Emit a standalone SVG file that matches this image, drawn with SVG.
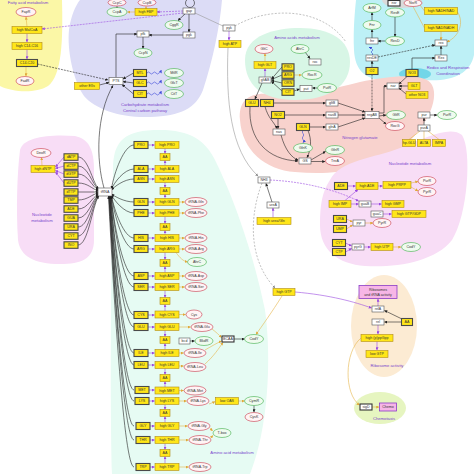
<svg xmlns="http://www.w3.org/2000/svg" width="474" height="474" viewBox="0 0 474 474">
<defs>
<style>
.y{fill:#ffe619;stroke:#b08a1a;stroke-width:.6}
.d{fill:#ffe619;stroke:#4a4a4a;stroke-width:1.1}
.w{fill:#fff;stroke:#555;stroke-width:.6}
.wd{fill:#fff;stroke:#333;stroke-width:1.1}
.p{fill:#fff4f5;stroke:#c8384a;stroke-width:.6}
.g{fill:#effbef;stroke:#3fae4a;stroke-width:.6}
.r{fill:#f7b6e6;stroke:#8a3cc8;stroke-width:.8}
text{font-family:"Liberation Sans",Arial,sans-serif;font-size:3.6px;fill:#333;text-anchor:middle;dominant-baseline:central}
.lb{font-size:4.2px;fill:#7a44cc}
.k,.kd,.pu,.pud,.o,.gr,.grd,.bl{fill:none;stroke-width:.6}
.k{stroke:#222}
.kd{stroke:#222;stroke-dasharray:2 1}
.pu{stroke:#9a4ae0}
.pud{stroke:#9a4ae0;stroke-dasharray:2 1}
.o{stroke:#e6b64a}
.gr{stroke:#999}
.grd{stroke:#999;stroke-dasharray:2 1.5}
.bl{stroke:#3a48d8}
</style>
<marker id="mk" viewBox="0 0 6 6" refX="5.5" refY="3" markerWidth="3" markerHeight="3" markerUnits="userSpaceOnUse" orient="auto"><path d="M0,0L6,3L0,6z" fill="#222"/></marker>
<marker id="mp" viewBox="0 0 6 6" refX="5.5" refY="3" markerWidth="3" markerHeight="3" markerUnits="userSpaceOnUse" orient="auto"><path d="M0,0L6,3L0,6z" fill="#9a4ae0"/></marker>
<marker id="mo" viewBox="0 0 6 6" refX="5.5" refY="3" markerWidth="3" markerHeight="3" markerUnits="userSpaceOnUse" orient="auto"><path d="M0,0L6,3L0,6z" fill="#e0a83a"/></marker>
<marker id="mg" viewBox="0 0 6 6" refX="5.5" refY="3" markerWidth="3" markerHeight="3" markerUnits="userSpaceOnUse" orient="auto"><path d="M0,0L6,3L0,6z" fill="#888"/></marker>
<marker id="mb" viewBox="0 0 6 6" refX="5.5" refY="3" markerWidth="3" markerHeight="3" markerUnits="userSpaceOnUse" orient="auto"><path d="M0,0L6,3L0,6z" fill="#3a48d8"/></marker>
</defs>
<rect width="474" height="474" fill="#fff"/>
<g id="regions">
<path d="M0,0 H62 C63,40 62,75 48,86 C35,94 12,92 0,86 Z" fill="#fbf7a6"/>
<path d="M80,0 H222 C220,25 213,60 203,90 C196,108 181,116 150,117 C120,118 95,109 84,96 C73,80 67,50 69,30 C71,15 76,5 80,0 Z" fill="#dcdcf6"/>
<path d="M356,0 H474 V55 C470,75 450,82 425,80 C410,79 400,80 385,80 C365,80 355,70 354,50 C353,30 355,10 356,0 Z" fill="#bdf0f6"/>
<ellipse cx="415" cy="74" rx="16" ry="6" fill="#72d6e8"/>
<ellipse cx="402" cy="0" rx="20" ry="8" fill="#dadada"/>
<path d="M240,120 C238,100 250,92 270,94 C300,96 330,90 360,82 C390,76 425,72 432,85 C440,100 425,130 400,150 C370,172 330,175 295,172 C265,170 242,150 240,120 Z" fill="#f8d2cd"/>
<path d="M245,60 C245,35 275,28 300,28 C330,28 350,40 350,62 C350,85 330,100 295,100 C262,100 245,85 245,60 Z" fill="#d8f6e6"/>
<path d="M330,180 C340,160 375,158 400,148 C425,138 450,125 462,135 C472,150 468,215 452,240 C435,262 395,268 365,266 C338,264 320,250 320,225 C320,205 322,192 330,180 Z" fill="#f8ddf6"/>
<path d="M20,150 C23,137 50,134 75,136 C89,139 94,150 94,170 L94,240 C94,259 81,264 60,264 C34,264 20,256 18,240 C16,210 17,175 20,150 Z" fill="#f8ddf6"/>
<path d="M113,170 C113,140 125,130 160,130 C190,130 205,140 215,160 C235,200 255,260 265,310 C272,360 268,430 250,474 L112,474 C110,400 111,250 113,170 Z" fill="#e6fbf3"/>
<ellipse cx="384" cy="326" rx="33" ry="51" fill="#fcebd3"/>
<ellipse cx="380" cy="408" rx="26" ry="16" fill="#e6f5c0"/>
</g>
<g id="labels">
<text x="28" y="2.5" class="lb">Fatty acid metabolism</text>
<text x="145" y="104" class="lb">Carbohydrate metabolism</text>
<text x="145" y="110" class="lb">Central carbon pathway</text>
<text x="448" y="67" class="lb">Redox and Respiration</text>
<text x="448" y="73" class="lb">Coordination</text>
<text x="297" y="37" class="lb">Amino acids metabolism</text>
<text x="360" y="137" class="lb">Nitrogen glutamate</text>
<text x="410" y="163" class="lb">Nucleotide metabolism</text>
<text x="42" y="214" class="lb">Nucleotide</text>
<text x="42" y="220" class="lb">metabolism</text>
<text x="387" y="365" class="lb">Ribosome activity</text>
<text x="384" y="418" class="lb">Chemotaxis</text>
<text x="232" y="452" class="lb">Amino acid metabolism</text>
</g>
<g id="connectors">
<path class="o" d="M27,26.5 L26,17" marker-end="url(#mo)"/>
<path class="pu" d="M27,33.5 V42" marker-end="url(#mp)"/>
<path class="pu" d="M27,49.5 V59" marker-end="url(#mp)"/>
<path class="o" d="M26,66.5 V76" marker-end="url(#mo)"/>
<path class="pud" d="M183,13 L42,29" marker-end="url(#mp)"/>
<path class="kd" d="M37.5,64 L108,80" marker-end="url(#mk)"/>
<path class="pud" d="M183,11 L157,12" marker-end="url(#mp)"/>
<path class="o" d="M135,12 L127.5,12" marker-end="url(#mo)"/>
<path class="k" d="M117,7.5 V6.5" marker-end="url(#mk)"/>
<path class="o" d="M146,8.5 V6.5" marker-end="url(#mo)"/>
<circle cx="190" cy="3" r="4.5" class="k"/>
<path class="k" d="M185,14 L178,20.5" marker-end="url(#mk)"/>
<path class="k" d="M189,14 V32" marker-end="url(#mk)"/>
<path class="k" d="M183,35 H149" marker-end="url(#mk)"/>
<path class="k" d="M143,37 V48.5" marker-end="url(#mk)"/>
<path class="k" d="M116,77.5 V34 H137" marker-end="url(#mk)"/>
<path class="k" d="M133.5,73 L123,79" marker-end="url(#mk)"/>
<path class="k" d="M133.5,83 L123,81.5" marker-end="url(#mk)"/>
<path class="k" d="M133.5,94 L122,84.5" marker-end="url(#mk)"/>
<path class="k" d="M99.5,85 L109,82.5" marker-end="url(#mk)"/>
<path class="bl" d="M147,73 q1.5,-2 3,0 t3,0 t3,0 t3,0 t2.5,0" marker-end="url(#mb)"/>
<path class="bl" d="M147,83 q1.5,-2 3,0 t3,0 t3,0 t3,0 t2.5,0" marker-end="url(#mb)"/>
<path class="bl" d="M147,94 q1.5,-2 3,0 t3,0 t3,0 t3,0 t2.5,0" marker-end="url(#mb)"/>
<path class="gr" d="M195,13 L223,26"/>
<path class="pu" d="M229,31 V40" marker-end="url(#mp)"/>
<path class="grd" d="M235,26 C265,8 320,5 346,42"/>
<path class="gr" d="M228,47.5 C226,100 230,150 258,176" marker-end="url(#mg)"/>
<path class="grd" d="M262,183 C248,220 250,262 275,288" marker-end="url(#mg)"/>
<path class="k" d="M372,20.5 V12.5" marker-end="url(#mk)"/>
<path class="k" d="M372,38 V29.5" marker-end="url(#mk)"/>
<path class="k" d="M385,41 H378" marker-end="url(#mk)"/>
<path class="k" d="M395,16.5 V36.5" marker-end="url(#mk)"/>
<path class="o" d="M424.5,11 L420,5"/>
<path class="o" d="M424.5,28 L413,6.5"/>
<path class="o" d="M441,31.5 V40" marker-end="url(#mo)"/>
<path class="o" d="M457.5,12 C464,22 460,36 447,42" marker-end="url(#mo)"/>
<path class="k" d="M441,55 V46" marker-end="url(#mk)"/>
<path class="kd" d="M378,57 L435,45" marker-end="url(#mk)"/>
<path class="bl" d="M372,55 q2,-1 0,-2 t0,-2 t0,-2 t0,-2" marker-end="url(#mb)"/>
<path class="k" d="M372,67.5 V61" marker-end="url(#mk)"/>
<path class="kd" d="M372,74.5 V111" marker-end="url(#mk)"/>
<path class="k" d="M412,69.5 V58 H435" marker-end="url(#mk)"/>
<path class="k" d="M407,76.5 L399,84" marker-end="url(#mk)"/>
<path class="k" d="M408,86 H399" marker-end="url(#mk)"/>
<path class="k" d="M406,94 L399,88" marker-end="url(#mk)"/>
<path class="k" d="M379,113 H384 V86 H387" marker-end="url(#mk)"/>
<path class="o" d="M265,61.5 V53.5" marker-end="url(#mo)"/>
<path class="pu" d="M265,77 V68.5" marker-end="url(#mp)"/>
<path class="k" d="M282,67 L271.5,79" marker-end="url(#mk)"/>
<path class="k" d="M282,75 L271.5,79.5" marker-end="url(#mk)"/>
<path class="k" d="M282,83 L271.5,80.5" marker-end="url(#mk)"/>
<path class="k" d="M282,91 L271.5,81.5" marker-end="url(#mk)"/>
<path class="k" d="M305,52 L310,58.5" marker-end="url(#mk)"/>
<path class="o" d="M294,75 L301.5,75" marker-end="url(#mo)"/>
<path class="k" d="M294,91 L299.5,89" marker-end="url(#mk)"/>
<path class="k" d="M317.5,88 H312.5" marker-end="url(#mk)"/>
<path class="k" d="M262,83 L255,99" marker-end="url(#mk)"/>
<path class="k" d="M273.5,103 H325.5" marker-end="url(#mk)"/>
<path class="k" d="M284.5,115 H325.5" marker-end="url(#mk)"/>
<path class="k" d="M309.5,127 H325.5" marker-end="url(#mk)"/>
<path class="k" d="M338,103 L365,112" marker-end="url(#mk)"/>
<path class="k" d="M338,115 H365" marker-end="url(#mk)"/>
<path class="k" d="M338,127 L365,118" marker-end="url(#mk)"/>
<path class="k" d="M379,116 L386,115" marker-end="url(#mk)"/>
<path class="k" d="M379,118 L386,124" marker-end="url(#mk)"/>
<path class="k" d="M424,125 V118" marker-end="url(#mk)"/>
<path class="k" d="M430,115 H437" marker-end="url(#mk)"/>
<path class="o" d="M409,139.5 L420,131"/>
<path class="o" d="M424,139.5 V131"/>
<path class="o" d="M439,139.5 L428,131"/>
<path class="k" d="M250,106.5 C248,140 268,160 298,161" marker-end="url(#mk)"/>
<path class="k" d="M265,106.5 C268,118 274,122 277,128.5" marker-end="url(#mk)"/>
<path class="k" d="M278,118.5 V128.5" marker-end="url(#mk)"/>
<path class="k" d="M281,135 C285,150 292,158 298,160" marker-end="url(#mk)"/>
<path class="bl" d="M303,130.5 q-1.5,1.5 0,3 t0,3 t0,3 t0,3" marker-end="url(#mb)"/>
<path class="k" d="M308,130.5 C312,140 311,150 307,157.5" marker-end="url(#mk)"/>
<path class="k" d="M311,160 L325.5,151.5" marker-end="url(#mk)"/>
<path class="k" d="M311,161.5 H325" marker-end="url(#mk)"/>
<path class="k" d="M272,202 L266,183.5" marker-end="url(#mk)"/>
<path class="pu" d="M273,217.5 V208" marker-end="url(#mp)"/>
<path class="pud" d="M270,180 C310,182 340,192 358.5,201" marker-end="url(#mp)"/>
<path class="pu" d="M347.5,186 H355.5" marker-end="url(#mp)"/>
<path class="pu" d="M378,186 H382.5" marker-end="url(#mp)"/>
<path class="o" d="M411,183 L418,181.5" marker-end="url(#mo)"/>
<path class="o" d="M411,187 L418,191" marker-end="url(#mo)"/>
<path class="pu" d="M351,204 H358.5" marker-end="url(#mp)"/>
<path class="pu" d="M371,204 H381.5" marker-end="url(#mp)"/>
<path class="pu" d="M345,200.5 L358,189.5" marker-end="url(#mp)"/>
<path class="pu" d="M383,214 H391.5" marker-end="url(#mp)"/>
<path class="o" d="M346.5,219 L352.5,222" marker-end="url(#mo)"/>
<path class="o" d="M346.5,229 L352.5,225" marker-end="url(#mo)"/>
<path class="o" d="M365,223 H373" marker-end="url(#mo)"/>
<path class="pu" d="M345.5,243 L351.5,246" marker-end="url(#mp)"/>
<path class="pu" d="M345.5,252 L351.5,248.5" marker-end="url(#mp)"/>
<path class="pu" d="M364,247 H370.5" marker-end="url(#mp)"/>
<path class="o" d="M393,247 H401" marker-end="url(#mo)"/>
<path class="pu" d="M378,306 V299" marker-end="url(#mp)"/>
<path class="k" d="M401.5,322 H384.5" marker-end="url(#mk)"/>
<path class="k" d="M402,319 L384.5,310.5" marker-end="url(#mk)"/>
<path class="pu" d="M378,325 V334" marker-end="url(#mp)"/>
<path class="pu" d="M377,341.5 V350" marker-end="url(#mp)"/>
<path class="pu" d="M295,292 C330,295 355,302 371.5,308" marker-end="url(#mp)"/>
<path class="o" d="M361,338 C344,352 344,394 359.5,405" marker-end="url(#mo)"/>
<path class="o" d="M372,407 H379" marker-end="url(#mo)"/>
<path class="o" d="M282,296 C272,312 262,326 256,334.5" marker-end="url(#mo)"/>
<path class="o" d="M42,165.5 L41.5,157.5" marker-end="url(#mo)"/>
<path class="pu" d="M64,157 L55.5,167" marker-end="url(#mp)"/>
<path class="pu" d="M64,166 L55.5,168.5" marker-end="url(#mp)"/>
<path class="pu" d="M64,174 L55.5,170.5" marker-end="url(#mp)"/>
<path class="pu" d="M64,183 L55.5,172" marker-end="url(#mp)"/>
<path class="k" d="M104,188 C96,160 96,115 113,85.5" stroke-width="1" marker-end="url(#mk)"/>
<path class="k" d="M78,157 C88,157 92,181 98.5,189" marker-end="url(#mk)"/>
<path class="k" d="M78,166 C88,166 92,184 98.5,189.5" marker-end="url(#mk)"/>
<path class="k" d="M78,174 C88,174 92,187 98.5,190" marker-end="url(#mk)"/>
<path class="k" d="M78,183 C88,183 92,189 98.5,191" marker-end="url(#mk)"/>
<path class="k" d="M78,192 H98.5" marker-end="url(#mk)"/>
<path class="k" d="M78,200 C88,200 92,194 98.5,193" marker-end="url(#mk)"/>
<path class="k" d="M78,209 C88,209 92,197 98.5,194" marker-end="url(#mk)"/>
<path class="k" d="M78,218 C88,218 92,200 98.5,194.5" marker-end="url(#mk)"/>
<path class="k" d="M78,227 C88,227 92,202 98.5,195" marker-end="url(#mk)"/>
<path class="k" d="M78,236 C88,236 92,205 98.5,195.5" marker-end="url(#mk)"/>
<path class="k" d="M78,245 C88,245 92,208 98.5,196" marker-end="url(#mk)"/>
<path class="k" d="M134,145 C124,145 114,173 111.5,188.5" marker-end="url(#mk)"/>
<path class="k" d="M134,169 C124,169 114,183 111.5,189" marker-end="url(#mk)"/>
<path class="k" d="M134,179 C124,179 114,187 111.5,190" marker-end="url(#mk)"/>
<path class="k" d="M134,202 C124,202 114,196 111.5,194" marker-end="url(#mk)"/>
<path class="k" d="M134,213 C124,213 114,200 111.5,195" marker-end="url(#mk)"/>
<path class="k" d="M134,238 C124,238 114,210 111.5,195.5" marker-end="url(#mk)"/>
<path class="k" d="M134,249 C124,249 114,215 111.5,195.5" marker-end="url(#mk)"/>
<path class="k" d="M134,276 C124,276 114,226 111,196" marker-end="url(#mk)"/>
<path class="k" d="M134,287 C124,287 114,230 111,196" marker-end="url(#mk)"/>
<path class="k" d="M134,315 C124,315 114,241 110.5,196" marker-end="url(#mk)"/>
<path class="k" d="M134,327 C124,327 114,246 110.5,196" marker-end="url(#mk)"/>
<path class="k" d="M134,353 C124,353 114,256 110,196" marker-end="url(#mk)"/>
<path class="k" d="M134,365 C124,365 114,261 110,196" marker-end="url(#mk)"/>
<path class="k" d="M134,390 C124,390 114,271 109.5,196" marker-end="url(#mk)"/>
<path class="k" d="M134,401 C124,401 114,276 109.5,196" marker-end="url(#mk)"/>
<path class="k" d="M134,426 C124,426 114,286 109,196" marker-end="url(#mk)"/>
<path class="k" d="M134,440 C124,440 114,291 109,196" marker-end="url(#mk)"/>
<path class="k" d="M134,467 C124,467 114,302 108.5,196" marker-end="url(#mk)"/>
<path class="pu" d="M148,145 H154.5" marker-end="url(#mp)"/>
<path class="pu" d="M148,169 H154.5" marker-end="url(#mp)"/>
<path class="pu" d="M148,179 H154.5" marker-end="url(#mp)"/>
<path class="pu" d="M148,202 H154.5" marker-end="url(#mp)"/>
<path class="pu" d="M148,213 H154.5" marker-end="url(#mp)"/>
<path class="pu" d="M148,238 H154.5" marker-end="url(#mp)"/>
<path class="pu" d="M148,249 H154.5" marker-end="url(#mp)"/>
<path class="pu" d="M148,276 H154.5" marker-end="url(#mp)"/>
<path class="pu" d="M148,287 H154.5" marker-end="url(#mp)"/>
<path class="pu" d="M148,315 H154.5" marker-end="url(#mp)"/>
<path class="pu" d="M148,327 H154.5" marker-end="url(#mp)"/>
<path class="pu" d="M148,353 H154.5" marker-end="url(#mp)"/>
<path class="pu" d="M148,365 H154.5" marker-end="url(#mp)"/>
<path class="pu" d="M149,390 H154.5" marker-end="url(#mp)"/>
<path class="pu" d="M149,401 H154.5" marker-end="url(#mp)"/>
<path class="pu" d="M150,426 H154.5" marker-end="url(#mp)"/>
<path class="pu" d="M150,440 H154.5" marker-end="url(#mp)"/>
<path class="pu" d="M150,467 H154.5" marker-end="url(#mp)"/>
<path class="o" d="M179,202 H184.5" marker-end="url(#mo)"/>
<path class="o" d="M179,213 H184.5" marker-end="url(#mo)"/>
<path class="o" d="M179,238 H184.5" marker-end="url(#mo)"/>
<path class="o" d="M179,249 H184.5" marker-end="url(#mo)"/>
<path class="o" d="M179,276 H184.5" marker-end="url(#mo)"/>
<path class="o" d="M179,287 H184.5" marker-end="url(#mo)"/>
<path class="o" d="M179,314.5 H185.5" marker-end="url(#mo)"/>
<path class="o" d="M179,327 H190.5" marker-end="url(#mo)"/>
<path class="o" d="M179,353 H183.5" marker-end="url(#mo)"/>
<path class="o" d="M179,366 H183.5" marker-end="url(#mo)"/>
<path class="o" d="M179,390.5 H183.5" marker-end="url(#mo)"/>
<path class="o" d="M179,401 H186.5" marker-end="url(#mo)"/>
<path class="o" d="M179,426 H187.5" marker-end="url(#mo)"/>
<path class="o" d="M179,440 H188.5" marker-end="url(#mo)"/>
<path class="o" d="M179,467 H188.5" marker-end="url(#mo)"/>
<path class="o" d="M176,252.5 C180,258 183,261 187.5,262" marker-end="url(#mo)"/>
<path class="o" d="M212,329 C216,332 219,335 221.5,337.5" marker-end="url(#mo)"/>
<path class="o" d="M205,350 C212,346 217,343 221.5,341" marker-end="url(#mo)"/>
<path class="o" d="M205,364 C214,356 219,348 223,342.5" marker-end="url(#mo)"/>
<path class="k" d="M190,341 H194.5" marker-end="url(#mk)"/>
<path class="k" d="M234,339 H244.5" marker-end="url(#mk)"/>
<path class="o" d="M238.5,401 H244.5" marker-end="url(#mo)"/>
<path class="k" d="M254,405.5 V412" marker-end="url(#mk)"/>
<path class="o" d="M209,404 C212,403 214,402 215,401.5" marker-end="url(#mo)"/>
<path class="o" d="M210,428 L212.5,431" marker-end="url(#mo)"/>
<path class="o" d="M210.5,438 L213,435.5" marker-end="url(#mo)"/>
<path class="pu" d="M165,148.5 V153.5" marker-end="url(#mp)"/>
<path class="pu" d="M165,165.5 V160.5" marker-end="url(#mp)"/>
<path class="pu" d="M165,182.5 V187.5" marker-end="url(#mp)"/>
<path class="pu" d="M165,198.5 V194.5" marker-end="url(#mp)"/>
<path class="pu" d="M165,216.5 V223.5" marker-end="url(#mp)"/>
<path class="pu" d="M165,234.5 V230.5" marker-end="url(#mp)"/>
<path class="pu" d="M165,252.5 V259.5" marker-end="url(#mp)"/>
<path class="pu" d="M165,272.5 V266.5" marker-end="url(#mp)"/>
<path class="pu" d="M165,290.5 V297.5" marker-end="url(#mp)"/>
<path class="pu" d="M165,311 V304.5" marker-end="url(#mp)"/>
<path class="pu" d="M165,330.5 V336.5" marker-end="url(#mp)"/>
<path class="pu" d="M165,349.5 V343.5" marker-end="url(#mp)"/>
<path class="pu" d="M165,368.5 V374.5" marker-end="url(#mp)"/>
<path class="pu" d="M165,387 V381.5" marker-end="url(#mp)"/>
<path class="pu" d="M165,404.5 V409.5" marker-end="url(#mp)"/>
<path class="pu" d="M165,422.5 V416.5" marker-end="url(#mp)"/>
<path class="pu" d="M165,443.5 V449.5" marker-end="url(#mp)"/>
<path class="pu" d="M165,463.5 V456.5" marker-end="url(#mp)"/>
</g>
<g id="n-fapr"><ellipse cx="26" cy="12" rx="10" ry="4.5" class="p"/><text x="26" y="12">FapR</text></g>
<g id="n-malcoa"><rect x="12" y="26.5" width="30" height="7" class="y"/><text x="27" y="30">high MalCoA</text></g>
<g id="n-c1416"><rect x="12" y="42.5" width="30" height="7" class="y"/><text x="27" y="46">high C14-C16</text></g>
<g id="n-c1420"><rect x="16.5" y="59.5" width="21" height="7" class="d"/><text x="27" y="63">C14-C20</text></g>
<g id="n-fadr"><ellipse cx="25" cy="81" rx="9" ry="4.5" class="p"/><text x="25" y="81">FadR</text></g>
<g id="n-ccpc"><ellipse cx="117" cy="2.5" rx="9" ry="3.5" class="p"/><text x="117" y="2.6">CcpC</text></g>
<g id="n-ccpa"><ellipse cx="117" cy="12" rx="10" ry="4.5" class="g"/><text x="117" y="12">CcpA</text></g>
<g id="n-fbp"><rect x="135" y="8.5" width="22" height="7" class="y"/><text x="146" y="12">high FBP</text></g>
<g id="n-ccpb"><ellipse cx="147" cy="2.5" rx="9" ry="3.5" class="p"/><text x="147" y="2.6">CcpB</text></g>
<g id="n-gap"><rect x="183" y="8" width="12" height="6" class="w"/><text x="189" y="11">gap</text></g>
<g id="n-cggr"><ellipse cx="174" cy="25" rx="9" ry="4.5" class="g"/><text x="174" y="25">CggR</text></g>
<g id="n-pgk"><rect x="183" y="32" width="12" height="6" class="w"/><text x="189" y="35">pgk</text></g>
<g id="n-pfk"><rect x="137" y="31" width="12" height="6" class="w"/><text x="143" y="34">pfk</text></g>
<g id="n-ccpn"><ellipse cx="143" cy="53" rx="9" ry="4.5" class="g"/><text x="143" y="53">CcpN</text></g>
<g id="n-pts"><rect x="109" y="77.5" width="14" height="7" class="w"/><text x="116" y="81">PTS</text></g>
<g id="n-oeii"><rect x="74.5" y="82.5" width="25" height="7" class="y"/><text x="87" y="86">other EIIs</text></g>
<g id="n-mtl"><rect x="133.5" y="69.5" width="13" height="7" class="d"/><text x="140" y="73">MTL</text></g>
<g id="n-glc"><rect x="133.5" y="79.5" width="13" height="7" class="d"/><text x="140" y="83">GLC</text></g>
<g id="n-cit"><rect x="133.5" y="90.5" width="13" height="7" class="d"/><text x="140" y="94">CIT</text></g>
<g id="n-mtlr"><ellipse cx="174" cy="73" rx="9.5" ry="4.5" class="g"/><text x="174" y="73">MtlR</text></g>
<g id="n-glct"><ellipse cx="174" cy="83" rx="9.5" ry="4.5" class="g"/><text x="174" y="83">GlcT</text></g>
<g id="n-citt"><ellipse cx="174" cy="94" rx="9.5" ry="4.5" class="g"/><text x="174" y="94">CitT</text></g>
<g id="n-pyk"><rect x="223" y="25" width="12" height="6" class="w"/><text x="229" y="28">pyk</text></g>
<g id="n-atp"><rect x="219" y="40.5" width="22" height="7" class="y"/><text x="230" y="44">high ATP</text></g>
<g id="n-arfm"><ellipse cx="372" cy="8" rx="9" ry="4.5" class="g"/><text x="372" y="8">ArfM</text></g>
<g id="n-fnrp"><ellipse cx="372" cy="25" rx="9" ry="4.5" class="g"/><text x="372" y="25">Fnr</text></g>
<g id="n-fnr"><rect x="366" y="38" width="12" height="6" class="w"/><text x="372" y="41">fnr</text></g>
<g id="n-resd"><ellipse cx="395" cy="41" rx="9.5" ry="4.5" class="g"/><text x="395" y="41">ResD</text></g>
<g id="n-rese"><ellipse cx="395" cy="12.5" rx="9.5" ry="4.5" class="g"/><text x="395" y="12.5">ResE</text></g>
<g id="n-nsrr"><ellipse cx="413" cy="3" rx="9" ry="3.5" class="p"/><text x="413" y="3">NsrR</text></g>
<g id="n-nsr"><rect x="388" y="0.5" width="12" height="5.5" class="wd"/><text x="394" y="3.3">nsr</text></g>
<g id="n-nadh"><rect x="424.5" y="7.5" width="33" height="7" class="y"/><text x="441" y="11">high NADH/NAD</text></g>
<g id="n-nad"><rect x="424.5" y="24.5" width="33" height="7" class="y"/><text x="441" y="28">high NAD/NADH</text></g>
<g id="n-rex"><rect x="435" y="40" width="12" height="6" class="w"/><text x="441" y="43">rex</text></g>
<g id="n-rexp"><rect x="435" y="55" width="12" height="6" class="w"/><text x="441" y="58">Rex</text></g>
<g id="n-resde"><rect x="366" y="55" width="12" height="6" class="w"/><text x="372" y="58">resDE</text></g>
<g id="n-o2"><rect x="366" y="67.5" width="12" height="7" class="d"/><text x="372" y="71">O2</text></g>
<g id="n-no3"><rect x="406" y="69.5" width="12" height="7" class="d"/><text x="412" y="73">NO3</text></g>
<g id="n-nar"><rect x="387" y="83" width="12" height="6" class="w"/><text x="393" y="86">nar</text></g>
<g id="n-glt"><rect x="408" y="82.5" width="12" height="7" class="y"/><text x="414" y="86">GLT</text></g>
<g id="n-ono3"><rect x="406" y="91.5" width="22" height="7" class="y"/><text x="417" y="95">other NO3</text></g>
<g id="n-gltc"><ellipse cx="264" cy="49" rx="9" ry="4.5" class="p"/><text x="264" y="49">GltC</text></g>
<g id="n-ahrc1"><ellipse cx="300" cy="49" rx="9" ry="4.5" class="g"/><text x="300" y="49">AhrC</text></g>
<g id="n-hglt"><rect x="254" y="61.5" width="22" height="7" class="y"/><text x="265" y="65">high GLT</text></g>
<g id="n-gltab"><rect x="259" y="77" width="12" height="6" class="w"/><text x="265" y="80">gltAB</text></g>
<g id="n-pro1"><rect x="282" y="63.8" width="12" height="6.5" class="d"/><text x="288" y="67">PRO</text></g>
<g id="n-arg1"><rect x="282" y="71.8" width="12" height="6.5" class="d"/><text x="288" y="75">ARG</text></g>
<g id="n-orn"><rect x="282" y="79.8" width="12" height="6.5" class="d"/><text x="288" y="83">ORN</text></g>
<g id="n-cit2"><rect x="282" y="88.8" width="12" height="6.5" class="d"/><text x="288" y="92">CIT</text></g>
<g id="n-roc"><rect x="309" y="59" width="12" height="6" class="w"/><text x="315" y="62">roc</text></g>
<g id="n-rocr"><ellipse cx="312" cy="75" rx="10" ry="4.5" class="g"/><text x="312" y="75">RocR</text></g>
<g id="n-put"><rect x="300" y="85.5" width="12" height="6" class="w"/><text x="306" y="88.5">put</text></g>
<g id="n-putr"><ellipse cx="327" cy="88" rx="9.5" ry="4.5" class="g"/><text x="327" y="88">PutR</text></g>
<g id="n-glu"><rect x="245.5" y="99.5" width="13" height="7" class="d"/><text x="252" y="103">GLU</text></g>
<g id="n-nh4"><rect x="260.5" y="99.5" width="13" height="7" class="d"/><text x="267" y="103">NH4</text></g>
<g id="n-no2"><rect x="271.5" y="111.5" width="13" height="7" class="d"/><text x="278" y="115">NO2</text></g>
<g id="n-gln"><rect x="296.5" y="123.5" width="13" height="7" class="d"/><text x="303" y="127">GLN</text></g>
<g id="n-nas"><rect x="273" y="129" width="12" height="6" class="w"/><text x="279" y="132">nas</text></g>
<g id="n-glnk"><ellipse cx="303" cy="148" rx="9.5" ry="4.5" class="g"/><text x="303" y="148">GlnK</text></g>
<g id="n-gs"><rect x="299" y="158" width="12" height="6" class="w"/><text x="305" y="161">GS</text></g>
<g id="n-glnr"><ellipse cx="335" cy="150" rx="9.5" ry="4.5" class="g"/><text x="335" y="150">GlnR</text></g>
<g id="n-tnra"><ellipse cx="335" cy="161" rx="9.5" ry="4.5" class="p"/><text x="335" y="161">TnrA</text></g>
<g id="n-gltb"><rect x="326" y="100" width="12" height="6" class="w"/><text x="332" y="103">gltB</text></g>
<g id="n-nasb"><rect x="326" y="112" width="12" height="6" class="w"/><text x="332" y="115">nasB</text></g>
<g id="n-glna"><rect x="326" y="124" width="12" height="6" class="w"/><text x="332" y="127">glnA</text></g>
<g id="n-nrg"><rect x="365" y="111.5" width="14" height="7" class="w"/><text x="372" y="115">nrgAB</text></g>
<g id="n-gltr"><ellipse cx="396" cy="115" rx="9.5" ry="4.5" class="g"/><text x="396" y="115">GltR</text></g>
<g id="n-rocg"><ellipse cx="395" cy="126" rx="9.5" ry="4.5" class="p"/><text x="395" y="126">RocG</text></g>
<g id="n-pur"><rect x="418" y="112" width="12" height="6" class="w"/><text x="424" y="115">pur</text></g>
<g id="n-purr"><ellipse cx="447" cy="115" rx="9.5" ry="4.5" class="g"/><text x="447" y="115">PurR</text></g>
<g id="n-pura"><rect x="418" y="125" width="12" height="6" class="w"/><text x="424" y="128">purA</text></g>
<g id="n-hpglu"><rect x="402.5" y="139.5" width="13" height="7" class="y"/><text x="409" y="143">hp-GLU</text></g>
<g id="n-alta"><rect x="417.5" y="139.5" width="13" height="7" class="y"/><text x="424" y="143">ALTA</text></g>
<g id="n-impa"><rect x="432.5" y="139.5" width="13" height="7" class="y"/><text x="439" y="143">IMPA</text></g>
<g id="n-nh3"><rect x="258" y="177" width="12" height="6" class="w"/><text x="264" y="180">NH3</text></g>
<g id="n-ure"><rect x="267" y="202" width="12" height="6" class="w"/><text x="273" y="205">ureA</text></g>
<g id="n-urea"><rect x="257" y="217.5" width="34" height="7" class="y"/><text x="274" y="221">high urea/Gln</text></g>
<g id="n-hgtp"><rect x="273" y="288.5" width="22" height="7" class="y"/><text x="284" y="292">high GTP</text></g>
<g id="n-ade"><rect x="334.5" y="182.5" width="13" height="7" class="d"/><text x="341" y="186">ADE</text></g>
<g id="n-hade"><rect x="356" y="182.5" width="22" height="7" class="y"/><text x="367" y="186">high ADE</text></g>
<g id="n-prpp"><rect x="383" y="181.5" width="28" height="7" class="y"/><text x="397" y="185">high PRPP</text></g>
<g id="n-purr2"><ellipse cx="427" cy="181" rx="9" ry="4.5" class="p"/><text x="427" y="181">PurR</text></g>
<g id="n-pyrr"><ellipse cx="427" cy="192" rx="9" ry="4.5" class="p"/><text x="427" y="192">PyrR</text></g>
<g id="n-himp"><rect x="329" y="200.5" width="22" height="7" class="y"/><text x="340" y="204">high IMP</text></g>
<g id="n-guab"><rect x="359" y="201" width="12" height="6" class="w"/><text x="365" y="204">guaB</text></g>
<g id="n-hgmp"><rect x="382" y="200.5" width="22" height="7" class="y"/><text x="393" y="204">high GMP</text></g>
<g id="n-guac"><rect x="371" y="211" width="12" height="6" class="w"/><text x="377" y="214">guaC</text></g>
<g id="n-hgdp"><rect x="392" y="210.5" width="34" height="7" class="y"/><text x="409" y="214">high GTP/GDP</text></g>
<g id="n-ura"><rect x="333.5" y="215.5" width="13" height="7" class="d"/><text x="340" y="219">URA</text></g>
<g id="n-ump"><rect x="333.5" y="225.5" width="13" height="7" class="d"/><text x="340" y="229">UMP</text></g>
<g id="n-pyr"><rect x="353" y="220" width="12" height="6" class="w"/><text x="359" y="223">pyr</text></g>
<g id="n-pyrr2"><ellipse cx="382" cy="223" rx="9" ry="4.5" class="p"/><text x="382" y="223">PyrR</text></g>
<g id="n-cyt"><rect x="332.5" y="239.5" width="13" height="7" class="d"/><text x="339" y="243">CYT</text></g>
<g id="n-ctp"><rect x="332.5" y="248.5" width="13" height="7" class="d"/><text x="339" y="252">CTP</text></g>
<g id="n-pyrg"><rect x="352" y="244" width="12" height="6" class="w"/><text x="358" y="247">pyrG</text></g>
<g id="n-hutp"><rect x="371" y="243.5" width="22" height="7" class="y"/><text x="382" y="247">high UTP</text></g>
<g id="n-cody2"><ellipse cx="411" cy="247" rx="9.5" ry="4.5" class="g"/><text x="411" y="247">CodY</text></g>
<g id="n-ribo"><rect x="359" y="285.5" width="38" height="13" class="r"/><text x="378" y="290">Ribosomes</text><text x="378" y="295">and tRNA activity</text></g>
<g id="n-rela"><rect x="372" y="306" width="12" height="6" class="w"/><text x="378" y="309">relA</text></g>
<g id="n-rel"><rect x="372" y="319" width="12" height="6" class="w"/><text x="378" y="322">rel</text></g>
<g id="n-aa"><rect x="401.5" y="318.5" width="11" height="7" class="d"/><text x="407" y="322">AA</text></g>
<g id="n-ppgpp"><rect x="361" y="334.5" width="32" height="7" class="y"/><text x="377" y="338">high (p)ppGpp</text></g>
<g id="n-lgtp"><rect x="366" y="350.5" width="22" height="7" class="y"/><text x="377" y="354">low GTP</text></g>
<g id="n-sig"><rect x="360" y="404" width="12" height="6" class="wd"/><text x="366" y="407">sigD</text></g>
<g id="n-chem"><rect x="379.5" y="403" width="17" height="8" class="r"/><text x="388" y="407">Chemo</text></g>
<g id="n-deor"><ellipse cx="41" cy="153" rx="10" ry="4.5" class="p"/><text x="41" y="153">DeoR</text></g>
<g id="n-dntp"><rect x="31" y="165.5" width="24" height="7" class="y"/><text x="43" y="169">high dNTP</text></g>
<g id="n-col1"><rect x="64" y="153.8" width="14" height="6.5" class="d"/><text x="71" y="157">dATP</text></g>
<g id="n-col2"><rect x="64" y="162.8" width="14" height="6.5" class="d"/><text x="71" y="166">dCTP</text></g>
<g id="n-col3"><rect x="64" y="170.8" width="14" height="6.5" class="d"/><text x="71" y="174">dGTP</text></g>
<g id="n-col4"><rect x="64" y="179.8" width="14" height="6.5" class="d"/><text x="71" y="183">dUTP</text></g>
<g id="n-col5"><rect x="64" y="188.8" width="14" height="6.5" class="d"/><text x="71" y="192">dTTP</text></g>
<g id="n-col6"><rect x="64" y="196.8" width="14" height="6.5" class="d"/><text x="71" y="200">TMP</text></g>
<g id="n-col7"><rect x="64" y="205.8" width="14" height="6.5" class="d"/><text x="71" y="209">ADE</text></g>
<g id="n-col8"><rect x="64" y="214.8" width="14" height="6.5" class="d"/><text x="71" y="218">GUA</text></g>
<g id="n-col9"><rect x="64" y="223.8" width="14" height="6.5" class="d"/><text x="71" y="227">URA</text></g>
<g id="n-col10"><rect x="64" y="232.8" width="14" height="6.5" class="d"/><text x="71" y="236">CYT</text></g>
<g id="n-col11"><rect x="64" y="241.8" width="14" height="6.5" class="d"/><text x="71" y="245">INO</text></g>
<g id="n-hub"><rect x="98" y="188" width="14" height="8" class="w"/><text x="105" y="192">tRNA</text></g>
<g id="g1"><rect x="134" y="141.5" width="14" height="7" class="d"/><text x="141" y="145">PRO</text><rect x="155" y="141.5" width="24" height="7" class="y"/><text x="167" y="145">high PRO</text><rect x="160" y="153.5" width="10" height="7" class="y"/><text x="165" y="157">AA</text></g>
<g id="g2"><rect x="134" y="165.5" width="14" height="7" class="d"/><text x="141" y="169">ALA</text><rect x="134" y="175.5" width="14" height="7" class="d"/><text x="141" y="179">ASN</text><rect x="155" y="165.5" width="24" height="7" class="y"/><text x="167" y="169">high ALA</text><rect x="155" y="175.5" width="24" height="7" class="y"/><text x="167" y="179">high ASN</text><rect x="160" y="187.5" width="10" height="7" class="y"/><text x="165" y="191">AA</text></g>
<g id="g3"><rect x="134" y="198.5" width="14" height="7" class="d"/><text x="141" y="202">GLN</text><rect x="134" y="209.5" width="14" height="7" class="d"/><text x="141" y="213">PHE</text><rect x="155" y="198.5" width="24" height="7" class="y"/><text x="167" y="202">high GLN</text><rect x="155" y="209.5" width="24" height="7" class="y"/><text x="167" y="213">high PHE</text><ellipse cx="196" cy="202" rx="11" ry="4.5" class="p"/><text x="196" y="202">tRNA-Gln</text><ellipse cx="196" cy="213" rx="11" ry="4.5" class="p"/><text x="196" y="213">tRNA-Phe</text><rect x="160" y="223.5" width="10" height="7" class="y"/><text x="165" y="227">AA</text></g>
<g id="g4"><rect x="134" y="234.5" width="14" height="7" class="d"/><text x="141" y="238">HIS</text><rect x="134" y="245.5" width="14" height="7" class="d"/><text x="141" y="249">ARG</text><rect x="155" y="234.5" width="24" height="7" class="y"/><text x="167" y="238">high HIS</text><rect x="155" y="245.5" width="24" height="7" class="y"/><text x="167" y="249">high ARG</text><ellipse cx="196" cy="238" rx="11" ry="4.5" class="p"/><text x="196" y="238">tRNA-His</text><ellipse cx="196" cy="249" rx="11" ry="4.5" class="p"/><text x="196" y="249">tRNA-Arg</text><ellipse cx="197" cy="262" rx="9.5" ry="4.5" class="g"/><text x="197" y="262">AhrC</text><rect x="160" y="259.5" width="10" height="7" class="y"/><text x="165" y="263">AA</text></g>
<g id="g5"><rect x="134" y="272.5" width="14" height="7" class="d"/><text x="141" y="276">ASP</text><rect x="134" y="283.5" width="14" height="7" class="d"/><text x="141" y="287">SER</text><rect x="155" y="272.5" width="24" height="7" class="y"/><text x="167" y="276">high ASP</text><rect x="155" y="283.5" width="24" height="7" class="y"/><text x="167" y="287">high SER</text><ellipse cx="196" cy="276" rx="11" ry="4.5" class="p"/><text x="196" y="276">tRNA-Asp</text><ellipse cx="196" cy="287" rx="11" ry="4.5" class="p"/><text x="196" y="287">tRNA-Ser</text><rect x="160" y="297.5" width="10" height="7" class="y"/><text x="165" y="301">AA</text></g>
<g id="g6"><rect x="134" y="311.5" width="14" height="7" class="d"/><text x="141" y="315">CYS</text><rect x="134" y="323.5" width="14" height="7" class="d"/><text x="141" y="327">GLU</text><rect x="155" y="311" width="24" height="7" class="y"/><text x="167" y="314.5">high CYS</text><rect x="155" y="323.5" width="24" height="7" class="y"/><text x="167" y="327">high GLU</text><ellipse cx="194" cy="314.5" rx="8" ry="4.5" class="p"/><text x="194" y="314.5">Cys</text><ellipse cx="202" cy="327" rx="11" ry="4.5" class="p"/><text x="202" y="327">tRNA-Glu</text><rect x="160" y="336.5" width="10" height="7" class="y"/><text x="165" y="340">AA</text></g>
<g id="g7"><rect x="134" y="349.5" width="14" height="7" class="d"/><text x="141" y="353">ILE</text><rect x="134" y="361.5" width="14" height="7" class="d"/><text x="141" y="365">LEU</text><rect x="155" y="349.5" width="24" height="7" class="y"/><text x="167" y="353">high ILE</text><rect x="155" y="361.5" width="24" height="7" class="y"/><text x="167" y="365">high LEU</text><ellipse cx="195" cy="353" rx="11" ry="4.5" class="p"/><text x="195" y="353">tRNA-Ile</text><ellipse cx="195" cy="367" rx="11" ry="4.5" class="p"/><text x="195" y="367">tRNA-Leu</text><rect x="160" y="374.5" width="10" height="7" class="y"/><text x="165" y="378">AA</text></g>
<g id="n-bcd"><rect x="179" y="338" width="11" height="6" class="w"/><text x="184.5" y="341">bcd</text></g>
<g id="n-bkdr"><ellipse cx="204" cy="341" rx="9" ry="4.5" class="g"/><text x="204" y="341">BkdR</text></g>
<g id="n-bcaa"><rect x="222" y="336" width="12" height="6" class="wd"/><text x="228" y="339">BCAA</text></g>
<g id="n-cody"><ellipse cx="254" cy="339" rx="9.5" ry="4.5" class="g"/><text x="254" y="339">CodY</text></g>
<g id="g8"><rect x="135" y="386.5" width="14" height="7" class="d"/><text x="142" y="390">MET</text><rect x="135" y="397.5" width="14" height="7" class="d"/><text x="142" y="401">LYS</text><rect x="155" y="387" width="24" height="7" class="y"/><text x="167" y="390.5">high MET</text><rect x="155" y="397.5" width="24" height="7" class="y"/><text x="167" y="401">high LYS</text><ellipse cx="195" cy="390.5" rx="11" ry="4.5" class="p"/><text x="195" y="390.5">tRNA-Met</text><ellipse cx="198" cy="401" rx="11" ry="4.5" class="p"/><text x="198" y="401">tRNA-Lys</text><rect x="160" y="409.5" width="10" height="7" class="y"/><text x="165" y="413">AA</text></g>
<g id="n-oas"><rect x="215.5" y="397.5" width="23" height="7" class="y"/><text x="227" y="401">low OAS</text></g>
<g id="n-cymr"><ellipse cx="254" cy="401" rx="9.5" ry="4.5" class="g"/><text x="254" y="401">CymR</text></g>
<g id="n-cysk"><ellipse cx="254" cy="417" rx="9" ry="4.5" class="p"/><text x="254" y="417">CysK</text></g>
<g id="g9"><rect x="136" y="422.5" width="14" height="7" class="d"/><text x="143" y="426">GLY</text><rect x="136" y="436.5" width="14" height="7" class="d"/><text x="143" y="440">THR</text><rect x="155" y="422.5" width="24" height="7" class="y"/><text x="167" y="426">high GLY</text><rect x="155" y="436.5" width="24" height="7" class="y"/><text x="167" y="440">high THR</text><ellipse cx="199" cy="426" rx="11" ry="4.5" class="p"/><text x="199" y="426">tRNA-Gly</text><ellipse cx="200" cy="440" rx="11" ry="4.5" class="p"/><text x="200" y="440">tRNA-Thr</text><rect x="160" y="449.5" width="10" height="7" class="y"/><text x="165" y="453">AA</text></g>
<g id="n-tbox"><ellipse cx="222" cy="433" rx="9" ry="4.5" class="g"/><text x="222" y="433">T-box</text></g>
<g id="g10"><rect x="136" y="463.5" width="14" height="7" class="d"/><text x="143" y="467">TRP</text><rect x="155" y="463.5" width="24" height="7" class="y"/><text x="167" y="467">high TRP</text><ellipse cx="200" cy="467" rx="11" ry="4.5" class="p"/><text x="200" y="467">tRNA-Trp</text></g>
</svg>
